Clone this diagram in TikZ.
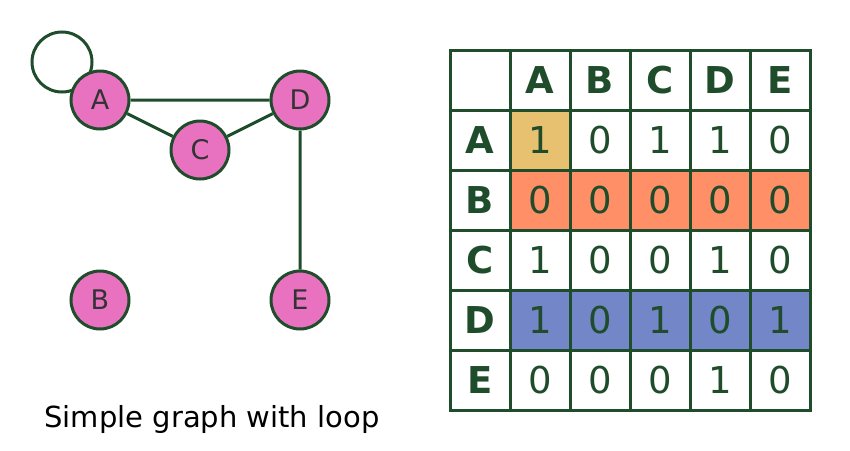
\documentclass[tikz,border=0pt]{standalone}
\usepackage{fontspec}
\setmainfont{DejaVu Sans}
\definecolor{dg}{RGB}{31,77,44}
\definecolor{pk}{RGB}{232,114,192}
\definecolor{yl}{RGB}{232,193,112}
\definecolor{og}{RGB}{255,143,102}
\definecolor{bl}{RGB}{114,134,200}
\begin{document}
\begin{tikzpicture}[x=1pt,y=-1pt,
  vert/.style={circle,draw=dg,line width=3pt,fill=pk,minimum size=58pt,inner sep=0pt,font=\fontsize{27}{30}\selectfont,text=black!80},
  edge/.style={draw=dg,line width=3pt},
  cell/.style={draw=dg,line width=3pt,minimum size=60pt,inner sep=0pt,text=dg,font=\fontsize{37}{40}\selectfont},
  hcell/.style={cell,font=\fontsize{37}{40}\selectfont\bfseries}]
\useasboundingbox (0,0) rectangle (850,450);
\draw[edge] (62,62) circle (30);
\node[vert] (A) at (100,100) {A};
\node[vert] (D) at (300,100) {D};
\node[vert] (C) at (200,150) {C};
\node[vert] (B) at (100,300) {B};
\node[vert] (E) at (300,300) {E};
\draw[edge] (A)--(D) (A)--(C) (C)--(D) (D)--(E);
\node (cap) at (212,419) {\fontsize{29}{32}\selectfont Simple graph with loop};
\node[cell] (h00) at (480,80) {};
\foreach \n [count=\i] in {A,B,C,D,E}{
  \node[hcell] (c\n) at (480+60*\i,80) {\n};
  \node[hcell] (r\n) at (480,80+60*\i) {\n};
}
\foreach \r/\vals/\col [count=\i] in {A/{1,0,1,1,0}/white,B/{0,0,0,0,0}/og,C/{1,0,0,1,0}/white,D/{1,0,1,0,1}/bl,E/{0,0,0,1,0}/white}{
  \foreach \v [count=\j] in \vals {
    \node[cell,fill=\col] (m\i\j) at (480+60*\j,80+60*\i) {\v};
  }
}
\node[cell,fill=yl] (m11b) at (540,140) {1};
\end{tikzpicture}
\end{document}
